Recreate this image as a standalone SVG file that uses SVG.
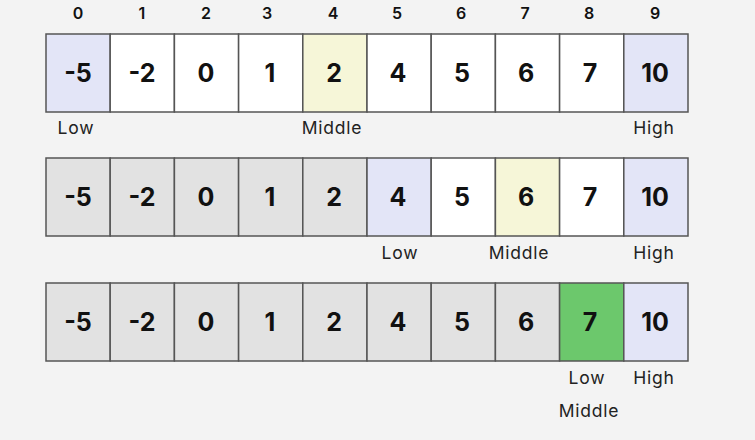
<svg xmlns="http://www.w3.org/2000/svg" width="755" height="440" viewBox="0 0 755 440">
<style>
.c{stroke:#555;stroke-width:1.5}
.w{fill:#ffffff}.b{fill:#e3e5f7}.y{fill:#f6f6d8}.g{fill:#e2e2e2}.gr{fill:#6cc86c}
.n{font-family:Inter,"Liberation Sans",sans-serif;font-size:25px;font-weight:700;fill:#111;text-anchor:middle;dominant-baseline:central}
.i{font-family:Inter,"Liberation Sans",sans-serif;font-size:16px;font-weight:600;fill:#111;text-anchor:middle;dominant-baseline:central}
.l{font-family:Inter,"Liberation Sans",sans-serif;font-size:17.5px;font-weight:400;letter-spacing:0.8px;fill:#222;text-anchor:middle;dominant-baseline:central}
</style>
<rect width="755" height="440" fill="#f3f3f3"/>
<g id="indices">
<text class="i" x="78" y="13">0</text><text class="i" x="142" y="13">1</text><text class="i" x="206" y="13">2</text><text class="i" x="267" y="13">3</text><text class="i" x="333" y="13">4</text><text class="i" x="397" y="13">5</text><text class="i" x="461" y="13">6</text><text class="i" x="525" y="13">7</text><text class="i" x="589" y="13">8</text><text class="i" x="655" y="13">9</text>
</g>
<g id="row1">
<rect class="c b" x="46" y="34" width="64.2" height="78"/>
<rect class="c w" x="110.2" y="34" width="64.2" height="78"/>
<rect class="c w" x="174.4" y="34" width="64.2" height="78"/>
<rect class="c w" x="238.6" y="34" width="64.2" height="78"/>
<rect class="c y" x="302.8" y="34" width="64.2" height="78"/>
<rect class="c w" x="367" y="34" width="64.2" height="78"/>
<rect class="c w" x="431.2" y="34" width="64.2" height="78"/>
<rect class="c w" x="495.4" y="34" width="64.2" height="78"/>
<rect class="c w" x="559.6" y="34" width="64.2" height="78"/>
<rect class="c b" x="623.8" y="34" width="64.2" height="78"/>
<text class="n" x="78" y="73">-5</text><text class="n" x="142" y="73">-2</text><text class="n" x="206" y="73">0</text><text class="n" x="270" y="73">1</text><text class="n" x="334" y="73">2</text><text class="n" x="398" y="73">4</text><text class="n" x="462" y="73">5</text><text class="n" x="526" y="73">6</text><text class="n" x="590" y="73">7</text><text class="n" x="655" y="73">10</text>
<text class="l" x="76" y="127">Low</text><text class="l" x="332" y="127">Middle</text><text class="l" x="654" y="127">High</text>
</g>
<g id="row2">
<rect class="c g" x="46" y="158" width="64.2" height="78"/>
<rect class="c g" x="110.2" y="158" width="64.2" height="78"/>
<rect class="c g" x="174.4" y="158" width="64.2" height="78"/>
<rect class="c g" x="238.6" y="158" width="64.2" height="78"/>
<rect class="c g" x="302.8" y="158" width="64.2" height="78"/>
<rect class="c b" x="367" y="158" width="64.2" height="78"/>
<rect class="c w" x="431.2" y="158" width="64.2" height="78"/>
<rect class="c y" x="495.4" y="158" width="64.2" height="78"/>
<rect class="c w" x="559.6" y="158" width="64.2" height="78"/>
<rect class="c b" x="623.8" y="158" width="64.2" height="78"/>
<text class="n" x="78" y="197">-5</text><text class="n" x="142" y="197">-2</text><text class="n" x="206" y="197">0</text><text class="n" x="270" y="197">1</text><text class="n" x="334" y="197">2</text><text class="n" x="398" y="197">4</text><text class="n" x="462" y="197">5</text><text class="n" x="526" y="197">6</text><text class="n" x="590" y="197">7</text><text class="n" x="655" y="197">10</text>
<text class="l" x="400" y="252">Low</text><text class="l" x="519" y="252">Middle</text><text class="l" x="654" y="252">High</text>
</g>
<g id="row3">
<rect class="c g" x="46" y="283" width="64.2" height="78"/>
<rect class="c g" x="110.2" y="283" width="64.2" height="78"/>
<rect class="c g" x="174.4" y="283" width="64.2" height="78"/>
<rect class="c g" x="238.6" y="283" width="64.2" height="78"/>
<rect class="c g" x="302.8" y="283" width="64.2" height="78"/>
<rect class="c g" x="367" y="283" width="64.2" height="78"/>
<rect class="c g" x="431.2" y="283" width="64.2" height="78"/>
<rect class="c g" x="495.4" y="283" width="64.2" height="78"/>
<rect class="c gr" x="559.6" y="283" width="64.2" height="78"/>
<rect class="c b" x="623.8" y="283" width="64.2" height="78"/>
<text class="n" x="78" y="322">-5</text><text class="n" x="142" y="322">-2</text><text class="n" x="206" y="322">0</text><text class="n" x="270" y="322">1</text><text class="n" x="334" y="322">2</text><text class="n" x="398" y="322">4</text><text class="n" x="462" y="322">5</text><text class="n" x="526" y="322">6</text><text class="n" x="590" y="322">7</text><text class="n" x="655" y="322">10</text>
<text class="l" x="587" y="377">Low</text><text class="l" x="654" y="377">High</text><text class="l" x="589" y="410">Middle</text>
</g>
<g id="connectors"/>
</svg>
